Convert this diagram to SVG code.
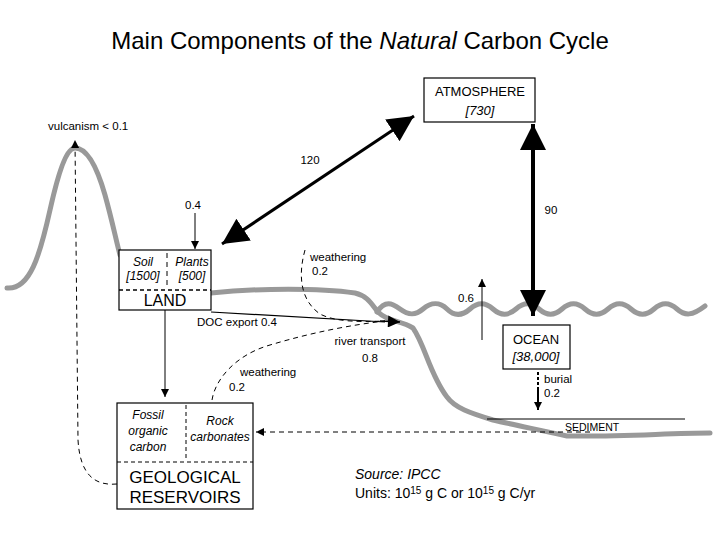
<svg xmlns="http://www.w3.org/2000/svg" width="720" height="540" viewBox="0 0 720 540">
<style>
text{font-family:"Liberation Sans",Arial,sans-serif;fill:#000}
.s{font-size:11.5px}
.i{font-style:italic}
.m{text-anchor:middle}
.box{fill:#fff;stroke:#000;stroke-width:1.2}
.g{fill:none;stroke:#999;stroke-width:5;stroke-linecap:round}
.d{fill:none;stroke:#000;stroke-width:1;stroke-dasharray:5,4}
.t{fill:none;stroke:#000;stroke-width:1}
</style>
<defs>
<marker id="a" viewBox="0 0 10 10" refX="10" refY="5" markerWidth="8" markerHeight="8" markerUnits="userSpaceOnUse" orient="auto"><path d="M0,0L10,5L0,10z"/></marker>
<marker id="b" viewBox="0 0 10 10" refX="10" refY="5" markerWidth="26" markerHeight="26" markerUnits="userSpaceOnUse" orient="auto-start-reverse"><path d="M0,0L10,5L0,10z"/></marker>
<marker id="c" viewBox="0 0 10 10" refX="10" refY="5" markerWidth="14" markerHeight="12" markerUnits="userSpaceOnUse" orient="auto"><path d="M0,0L10,5L0,10z"/></marker>
</defs>
<text x="360" y="49" class="m" style="font-size:24px">Main Components of the <tspan class="i">Natural</tspan> Carbon Cycle</text>
<g id="terrain">
<path class="g" d="M7,288 C30,290 40,255 50,210 C60,165 68,148 75,148 C85,148 95,160 105,195 C112,220 116,240 120,255"/>
<path class="g" d="M211,293 C260,288 320,288 355,293 C368,296 372,305 378,312 C388,322 400,320 413,328 C425,345 430,375 447,397 C455,408 470,413 493,420 C510,424 530,428 567,436 C620,437 670,433 710,433"/>
<path class="g" d="M377,312 C385,300 392,303 400,309 S415,316 423,309 S440,302 447,309 S462,316 470,309 S485,302 493,309 S508,316 516,309 S531,302 539,309 S554,316 562,309 S577,302 585,309 S600,316 608,309 S623,302 631,309 S646,316 654,309 S669,302 677,309 S692,316 705,306"/>
</g>
<g id="connectors">
<line x1="414" y1="116" x2="222" y2="244" stroke="#000" stroke-width="3" marker-start="url(#b)" marker-end="url(#b)"/>
<line x1="533" y1="124" x2="533" y2="316" stroke="#000" stroke-width="4" marker-start="url(#b)" marker-end="url(#b)"/>
<line class="t" x1="195" y1="213" x2="195" y2="249" marker-end="url(#a)"/>
<line class="t" x1="482" y1="340" x2="482" y2="279" marker-end="url(#a)"/>
<path d="M211,312 L385,322" stroke="#000" stroke-width="1.2" fill="none"/>
<line x1="380" y1="321" x2="400" y2="322" stroke="#000" stroke-width="1.5" marker-end="url(#c)"/>
<path class="d" d="M305,250 C298,275 300,300 320,314 C335,322 360,322 385,321"/>
<path class="d" d="M212,400 C215,380 235,355 270,345 C310,333 350,325 385,321"/>
<line class="t" x1="165" y1="310" x2="165" y2="397" marker-end="url(#a)"/>
<line x1="538" y1="372" x2="538" y2="391" stroke="#000" stroke-width="2" stroke-dasharray="3,2"/>
<line x1="538" y1="390" x2="538" y2="410" stroke="#000" stroke-width="2" marker-end="url(#a)"/>
<line class="t" x1="487" y1="419" x2="685" y2="419"/>
<line class="d" x1="590" y1="432" x2="256" y2="432" marker-end="url(#a)"/>
<path class="d" d="M117,484 C95,486 80,475 78,440 L75,140" marker-end="url(#a)"/>
</g>
<g id="atmosphere">
<rect class="box" x="424" y="78" width="111" height="44"/>
<text x="480" y="96" class="m" style="font-size:13px">ATMOSPHERE</text>
<text x="480" y="115" class="m i" style="font-size:13px">[730]</text>
</g>
<g id="land">
<rect class="box" x="119" y="250" width="92" height="60"/>
<line x1="119" y1="290" x2="211" y2="290" stroke="#000" stroke-width="1.5" stroke-dasharray="4,3"/>
<line class="d" x1="167" y1="253" x2="167" y2="288" stroke-dasharray="3,2"/>
<text x="143" y="266" class="m i" style="font-size:12px">Soil</text>
<text x="143" y="280" class="m i" style="font-size:12px">[1500]</text>
<text x="192" y="266" class="m i" style="font-size:12px">Plants</text>
<text x="192" y="280" class="m i" style="font-size:12px">[500]</text>
<text x="165" y="306" class="m" style="font-size:16px">LAND</text>
</g>
<g id="ocean">
<rect class="box" x="503" y="325" width="67" height="44"/>
<text x="536" y="344" class="m" style="font-size:13px">OCEAN</text>
<text x="536" y="361" class="m i" style="font-size:13px">[38,000]</text>
</g>
<g id="geological">
<rect class="box" x="117" y="403" width="136" height="106"/>
<line x1="117" y1="462" x2="253" y2="462" stroke="#000" stroke-width="1" stroke-dasharray="4,3"/>
<line x1="186" y1="405" x2="186" y2="458" stroke="#000" stroke-width="1" stroke-dasharray="4,3"/>
<text x="148" y="419" class="m i" style="font-size:12px">Fossil</text>
<text x="148" y="435" class="m i" style="font-size:12px">organic</text>
<text x="148" y="451" class="m i" style="font-size:12px">carbon</text>
<text x="220" y="425" class="m i" style="font-size:12px">Rock</text>
<text x="220" y="441" class="m i" style="font-size:12px">carbonates</text>
<text x="185" y="483" class="m" style="font-size:17px">GEOLOGICAL</text>
<text x="185" y="503" class="m" style="font-size:17px">RESERVOIRS</text>
</g>
<g id="labels">
<text x="48" y="130" class="s">vulcanism &lt; 0.1</text>
<text x="310" y="164" class="s m">120</text>
<text x="193" y="209" class="s m">0.4</text>
<text x="551" y="214" class="s m">90</text>
<text x="310" y="261" class="s">weathering</text>
<text x="312" y="275" class="s">0.2</text>
<text x="466" y="302" class="s m">0.6</text>
<text x="197" y="326" class="s">DOC export 0.4</text>
<text x="370" y="345" class="s m">river transport</text>
<text x="370" y="362" class="s m">0.8</text>
<text x="240" y="376" class="s">weathering</text>
<text x="229" y="391" class="s">0.2</text>
<text x="544" y="383" class="s">burial</text>
<text x="544" y="397" class="s">0.2</text>
<text x="565" y="431" class="s" style="font-size:10.5px">SEDIMENT</text>
<text x="355" y="479" class="i" style="font-size:14px">Source: IPCC</text>
<text x="355" y="498" style="font-size:14px">Units: 10<tspan dy="-4" style="font-size:10px">15</tspan><tspan dy="4"> g C or 10</tspan><tspan dy="-4" style="font-size:10px">15</tspan><tspan dy="4"> g C/yr</tspan></text>
</g>
</svg>
